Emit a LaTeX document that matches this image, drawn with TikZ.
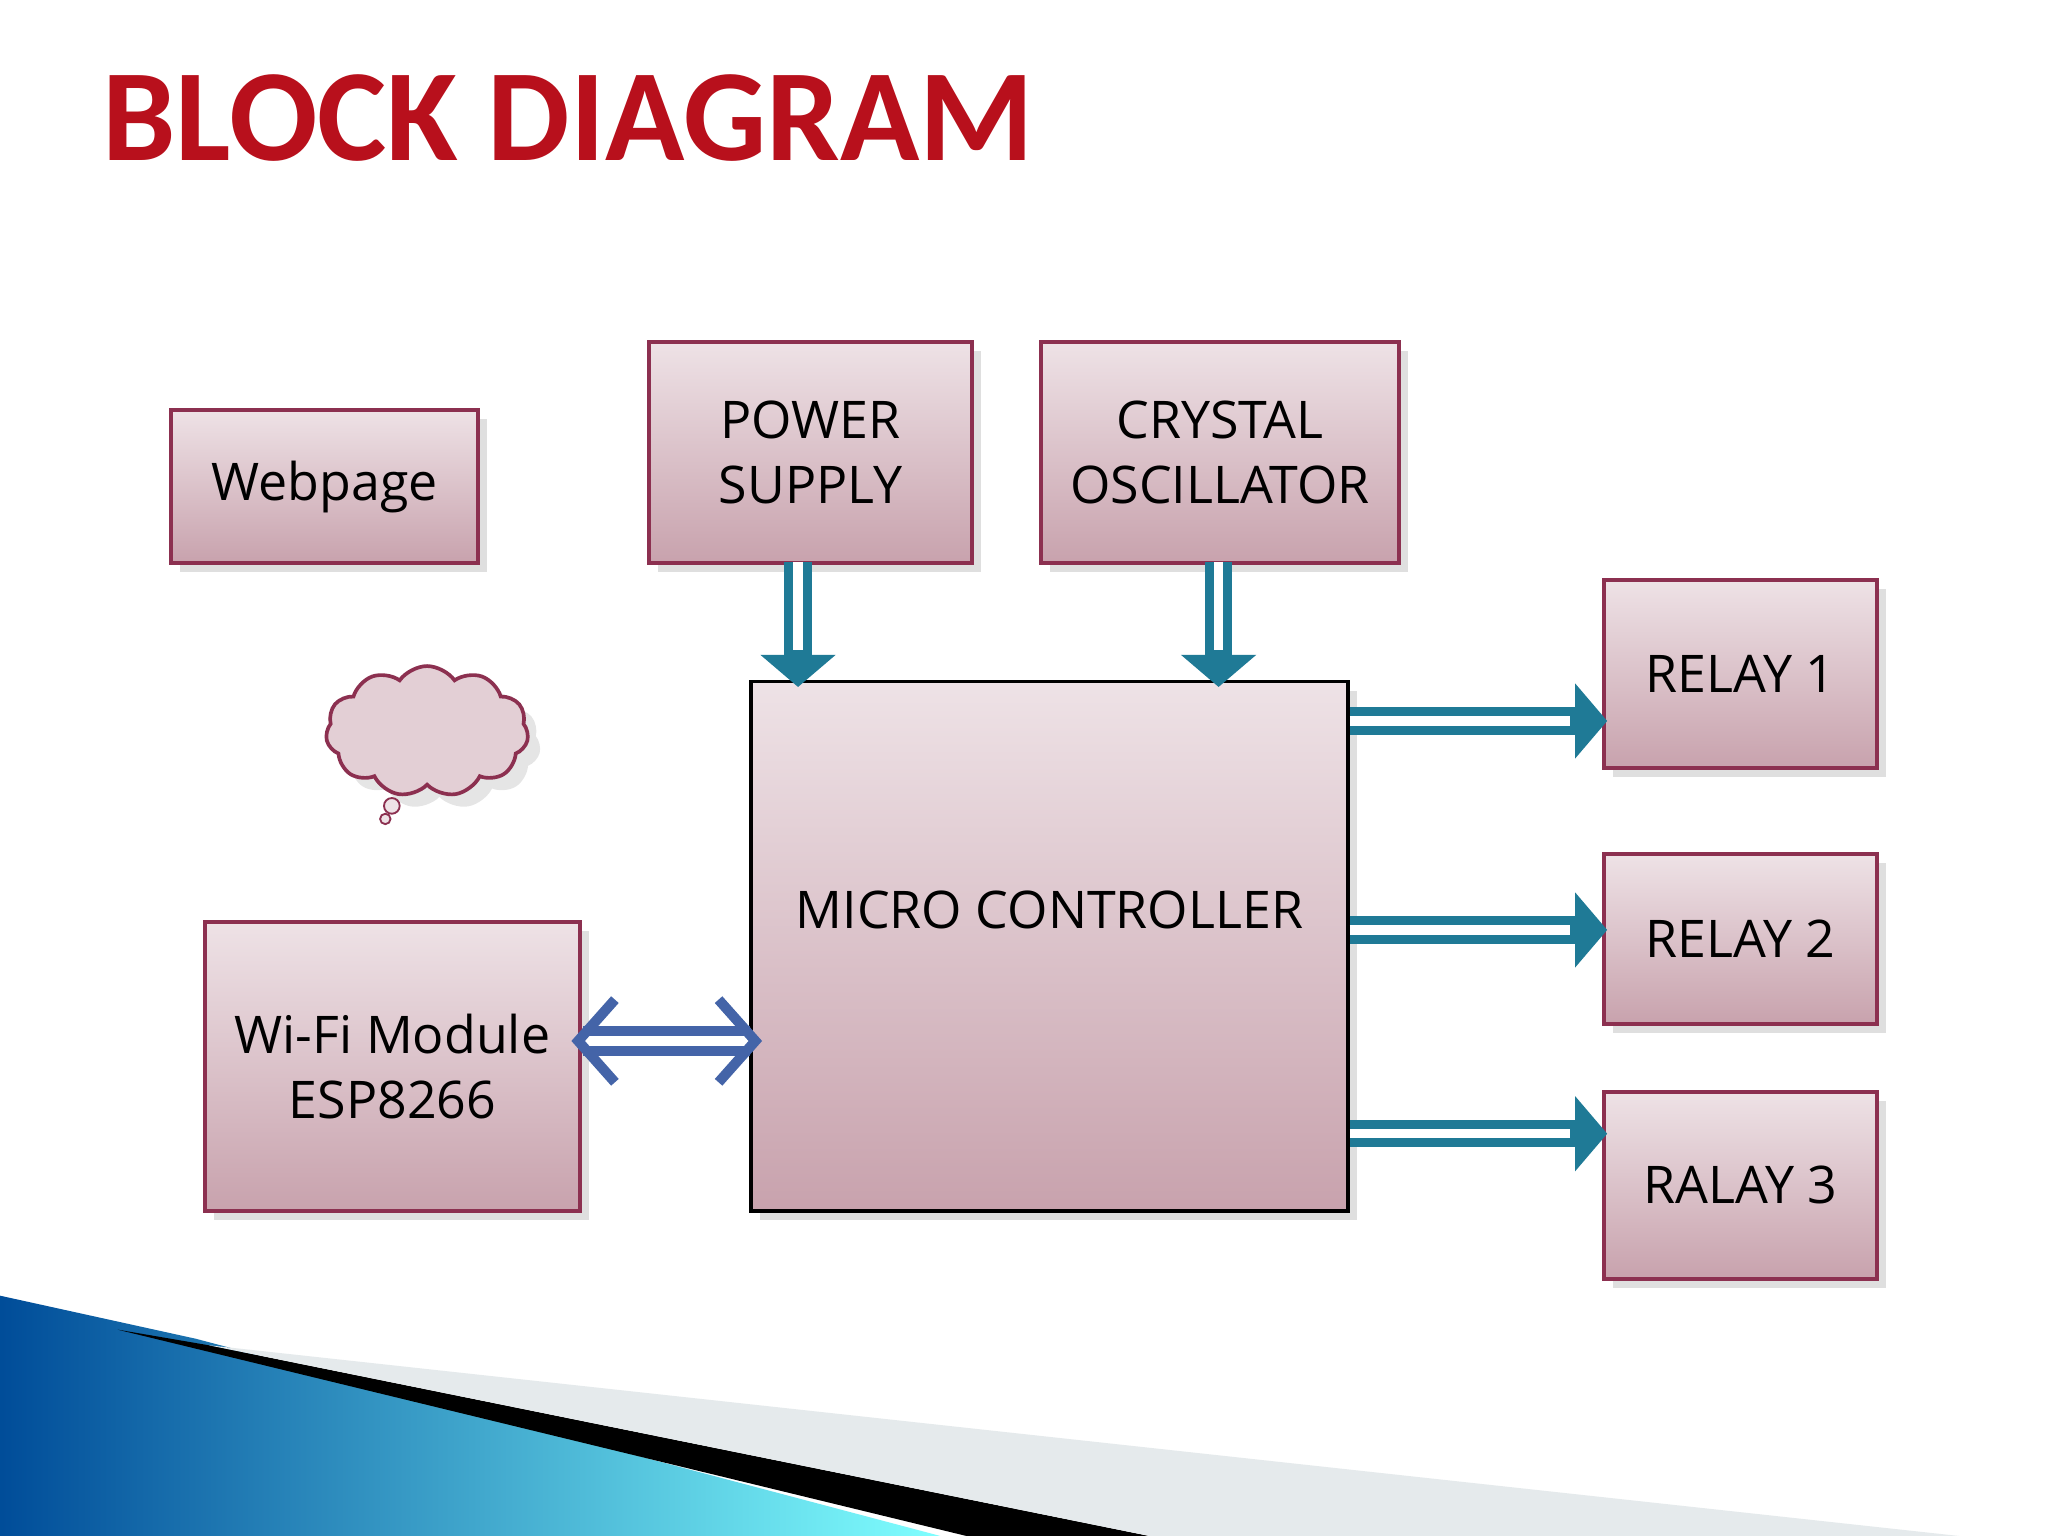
\documentclass[tikz,border=0pt]{standalone}
\usepackage{fontspec}
\setmainfont{Open Sans}
\newfontfamily\titlefont{Carlito}
\usetikzlibrary{arrows.meta,shapes.symbols,shadows}
\definecolor{bord}{HTML}{8C3050}
\definecolor{ftop}{HTML}{EEE2E6}
\definecolor{fbot}{HTML}{C8A2AD}
\definecolor{arr}{HTML}{1F7A96}
\definecolor{wifi}{HTML}{4464A8}
\definecolor{ttl}{HTML}{B8101C}
\tikzset{
 blk/.style={draw=bord, line width=0.8pt, top color=ftop, bottom color=fbot, drop shadow={opacity=0.25,shadow xshift=2pt,shadow yshift=-2pt}, align=center, font=\fontsize{11.3}{14}\selectfont, inner sep=0},
 tarr/.style={draw=arr, line width=6pt, -{Triangle[length=7pt,width=16pt]}},
 tcore/.style={draw=white, line width=2pt, shorten >=8pt},
}
\begin{document}
\begin{tikzpicture}[x=0.01cm,y=-0.01cm]
\useasboundingbox (0,0) rectangle (1568,1176);
\fill[white] (0,0) rectangle (1568,1176);
% title
\node[anchor=west, text=ttl, font=\titlefont\bfseries\fontsize{28.5}{32}\selectfont] (title) at (66,90) {BLOCK DIAGRAM};
% bottom decoration
\shade[left color=cyan!50!blue!60!black, right color=cyan!50!white] (0,992) -- (150,1025) -- (720,1176) -- (0,1176) -- cycle;
\fill[black] (90,1018) -- (160,1030) -- (880,1176) -- (740,1176) -- cycle;
\fill[cyan!15!gray!20] (160,1030) -- (1500,1176) -- (880,1176) -- cycle;
% boxes
\node[blk, minimum width=2.35cm, minimum height=1.17cm] (web) at (248.5,372.5) {Webpage};
\node[blk, minimum width=2.47cm, minimum height=1.69cm] (ps) at (620.5,346.5) {POWER\\SUPPLY};
\node[blk, minimum width=2.74cm, minimum height=1.69cm] (xo) at (934,346.5) {CRYSTAL\\OSCILLATOR};
\node[blk, draw=black, minimum width=4.57cm, minimum height=4.05cm] (mc) at (803.5,724.5) {};
\node (mclab) at (803.5,697) [font=\fontsize{11.3}{14}\selectfont] {MICRO CONTROLLER};
\node[blk, minimum width=2.87cm, minimum height=2.21cm] (wf) at (300.5,816.5) {Wi-Fi Module\\ESP8266};
\node[blk, minimum width=2.09cm, minimum height=1.44cm] (r1) at (1332.5,516) {RELAY 1};
\node[blk, minimum width=2.09cm, minimum height=1.30cm] (r2) at (1332.5,719) {RELAY 2};
\node[blk, minimum width=2.09cm, minimum height=1.43cm] (r3) at (1332.5,907.5) {RALAY 3};
% cloud
\node[cloud, cloud puffs=11, cloud puff arc=110, aspect=1.6, draw=bord, fill=ftop!70!fbot, minimum width=1.55cm, minimum height=1.0cm, line width=0.8pt, drop shadow={opacity=0.2}] (cl) at (327,560) {};
\node[circle, draw=bord, fill=ftop, inner sep=0, minimum size=0.12cm] (b1) at (300,617) {};
\node[circle, draw=bord, fill=ftop, inner sep=0, minimum size=0.08cm] (b2) at (295,627) {};
% arrows
\coordinate (pa) at (611,430); \coordinate (pb) at (611,526);
\coordinate (xa) at (933,430); \coordinate (xb) at (933,526);
\draw[tarr] (pa) -- (pb); \draw[tcore] (pa) -- (pb);
\draw[tarr] (xa) -- (xb); \draw[tcore] (xa) -- (xb);
\foreach \y/\t in {552/r1,712/r2,868/r3}{
 \draw[tarr] (mc.east |- 0,\y) -- ([xshift=0.04cm]\t.west |- 0,\y);
 \draw[tcore] (mc.east |- 0,\y) -- ([xshift=0.04cm]\t.west |- 0,\y);
}
\draw[wifi, line width=2.2pt, double=white, double distance=2pt, {Straight Barb[length=8pt,width=18pt]}-{Straight Barb[length=8pt,width=18pt]}] ([xshift=-0.08cm]wf.east |- 0,797) -- ([xshift=0.1cm]mc.west |- 0,797);
\end{tikzpicture}
\end{document}
